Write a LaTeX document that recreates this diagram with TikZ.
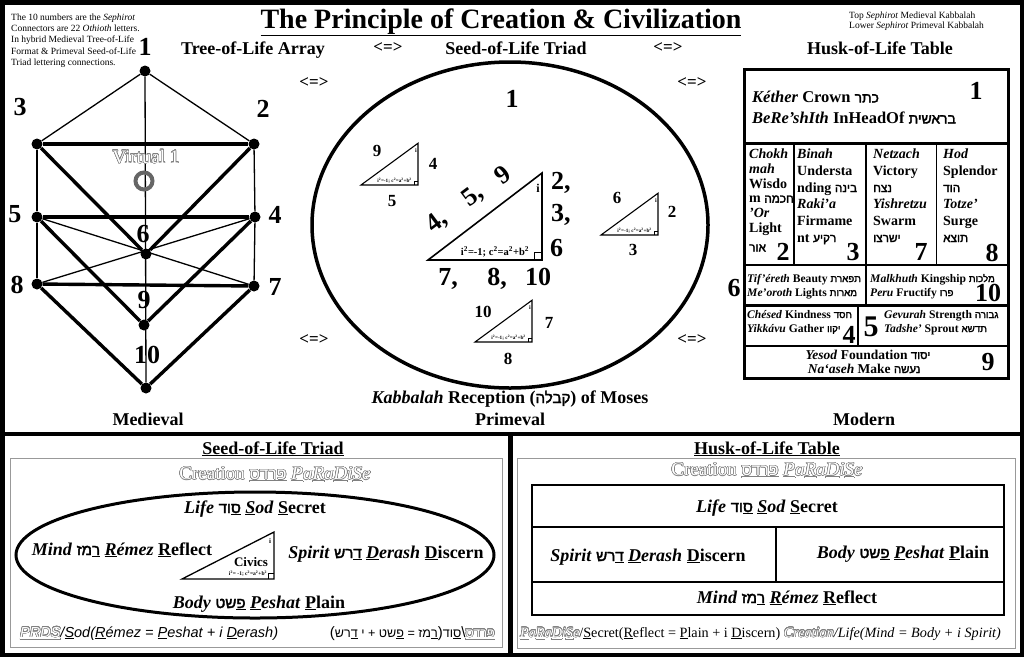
\documentclass[tikz,border=0pt]{standalone}
\usepackage{fontspec}
\setmainfont{Liberation Serif}
\newfontfamily\hebfont[Script=Hebrew, Scale=0.84, BoldFont={Liberation Sans}, BoldFeatures={FakeBold=2.5}]{Liberation Sans}
\newfontfamily\arialfont{Liberation Sans}
\usepackage[copies]{contour}
\contourlength{0.5pt}
\contournumber{20}
\TeXXeTstate=1
\usetikzlibrary{shapes.geometric}
\newcommand{\fsz}[2]{\fontsize{#1}{#2}\selectfont}
\newcommand{\heb}[1]{{\hebfont\upshape\beginR#1\endR}}
\newcommand{\outl}[1]{\contour{black!50}{\color{white}#1}}
\newcommand{\rtri}[4]{%
 \begin{scope}[shift={#1}, xscale=#2, yscale=#3]
   \draw[line width=#4] (-114,0) -- (0,-87) -- (0,0) -- cycle;
   \draw[line width=0.8pt] (-8,0) -- (-8,-8) -- (0,-8);
   \node[transform shape, inner sep=0pt, font=\bfseries\fsz{12}{12}] at (-4,-72) {i};
   \node[transform shape, inner sep=0pt, font=\bfseries\fsz{10.5}{11}] at (-47,-8) {i\textsuperscript{2}=-1; c\textsuperscript{2}=a\textsuperscript{2}+b\textsuperscript{2}};
 \end{scope}}
\tikzset{
 tn/.style={circle, fill=black, inner sep=0pt, minimum size=11pt},
 thn/.style={line width=1.3pt},
 thk/.style={line width=3.4pt},
 num/.style={font=\bfseries\fsz{26}{26}, inner sep=0pt},
 snum/.style={font=\bfseries\fsz{17}{17}, inner sep=0pt},
 hdr/.style={font=\bfseries\fsz{18}{20}, inner sep=0pt, anchor=base},
 hl/.style={anchor=base west, inner sep=0pt},
 hc/.style={anchor=base, inner sep=0pt},
 rowtwo/.style={hl, font=\bfseries\fsz{14}{14}},
 rowsm/.style={hl, font=\bfseries\fsz{11.6}{12}},
 note/.style={hl, font=\fsz{9.5}{11}},
 bline/.style={hc, font=\bfseries\fsz{18}{20}},
}
\begin{document}
\begin{tikzpicture}[x=1pt,y=-1pt]
\useasboundingbox (0,0) rectangle (1024,657);
\fill[white] (0,0) rectangle (1024,657);
% frame
\draw[line width=4.5pt] (2.25,2.25) rectangle (1021.75,654.75);
\draw[line width=4.5pt] (0,434) -- (1024,434);
\draw[line width=5pt] (510,434) -- (510,657);

% notes
\node[note] (note1) at (11,20.3) {The 10 numbers are the \textit{Sephirot}};
\node[note] (note2) at (11,31.6) {Connectors are 22 \textit{Othioth} letters.};
\node[note] (note3) at (11,42.9) {In hybrid Medieval Tree-of-Life};
\node[note] (note4) at (11,54.2) {Format \& Primeval Seed-of-Life};
\node[note] (note5) at (11,65.5) {Triad lettering connections.};
\node[note] (noteR1) at (849,18.8) {Top \textit{Sephirot} Medieval Kabbalah};
\node[note] (noteR2) at (849,28.5) {Lower \textit{Sephirot} Primeval Kabbalah};

% title
\node[hc, font=\bfseries\fsz{28}{30}] (title) at (501,28) {\underline{The Principle of Creation \& Civilization}};

% headers
\node[hdr] (h1) at (253,54) {Tree-of-Life Array};
\node[hdr] (h2) at (516,54) {Seed-of-Life Triad};
\node[hdr] (h3) at (880,54) {Husk-of-Life Table};
\node[font=\bfseries\fsz{17}{17}, inner sep=0pt] (e1) at (388,48) {<=>};
\node[font=\bfseries\fsz{17}{17}, inner sep=0pt] (e2) at (668,48) {<=>};
\node[font=\bfseries\fsz{17}{17}, inner sep=0pt] (e3) at (314,83) {<=>};
\node[font=\bfseries\fsz{17}{17}, inner sep=0pt] (e4) at (692,83) {<=>};
\node[font=\bfseries\fsz{17}{17}, inner sep=0pt] (e5) at (314,340) {<=>};
\node[font=\bfseries\fsz{17}{17}, inner sep=0pt] (e6) at (692,340) {<=>};
\node[hdr] (f1) at (148,425) {Medieval};
\node[hdr] (f2) at (510,425) {Primeval};
\node[hdr] (f3) at (864,425) {Modern};

% tree of life
\node[tn] (n1) at (145,71) {};
\node[tn] (n3) at (37,144) {};
\node[tn] (n2) at (254,144) {};
\node[tn] (n5) at (37,217) {};
\node[tn] (n4) at (255,217) {};
\node[tn] (n6) at (146,254) {};
\node[tn] (n8) at (37,284) {};
\node[tn] (n7) at (254,286) {};
\node[tn] (n9) at (144,325) {};
\node[tn] (n10) at (146,388) {};
\draw[thn] (n1) -- (n3); \draw[thn] (n1) -- (n2); \draw[thn] (n1) -- (n10);
\draw[thn] (n3) -- (n5); \draw[thn] (n5) -- (n8);
\draw[thn] (n2) -- (n4); \draw[thn] (n4) -- (n7);
\draw[thn] (n5) -- (n7); \draw[thn] (n8) -- (n4);
\draw[thk] (n3) -- (n2); \draw[thk] (n3) -- (n6); \draw[thk] (n2) -- (n6);
\draw[thk] (n5) -- (n4); \draw[thk] (n5) -- (n9); \draw[thk] (n4) -- (n9);
\draw[thk] (n8) -- (n7); \draw[thk] (n8) -- (n10); \draw[thk] (n7) -- (n10);
\node[num] (l1) at (145,47) {1};
\node[num] (l3) at (20,107) {3};
\node[num] (l2) at (263,109) {2};
\node[num] (l5) at (15,214) {5};
\node[num] (l4) at (275,215) {4};
\node[num] (l6) at (143,234) {6};
\node[num] (l8) at (17,285) {8};
\node[num] (l7) at (275,287) {7};
\node[num] (l9) at (144,300) {9};
\node[num] (l10) at (147,355) {10};
\node[font=\fsz{19}{20}, inner sep=0pt] (virt) at (146,157) {\outl{Virtual 1}};
\draw[black!60, line width=4pt] (144,181) circle (8.5);

% seed-of-life triad (top)
\draw[line width=3.5pt] (510,225) ellipse [x radius=198, y radius=163];
\node[num] (c1) at (512,99) {1};
\rtri{(542,260)}{1}{1}{1.6pt}
\rtri{(418,185)}{0.5}{0.48}{1.1pt}
\rtri{(658,235)}{0.5}{0.48}{1.1pt}
\rtri{(532,342)}{0.5}{0.48}{1.1pt}
\node[num, rotate=37] (c4) at (437,222) {4,};
\node[num, rotate=37] (c5) at (473,196) {5,};
\node[num, rotate=37] (c9) at (503,175) {9};
\node[num, anchor=west] (c2) at (551,183) {2,};
\node[num, anchor=west] (c3) at (551,215) {3,};
\node[num, anchor=west] (c6) at (550,248) {6};
\node[num] (c7) at (448,279) {7,};
\node[num] (c8) at (497,279) {8,};
\node[num] (c10) at (538,277) {10};
\node[snum] (a9) at (377,151) {9};
\node[snum] (a4) at (433,164) {4};
\node[snum] (a5) at (392,201) {5};
\node[snum] (b6) at (617,198) {6};
\node[snum] (b2) at (672,212) {2};
\node[snum] (b3) at (633,250) {3};
\node[snum] (d10) at (483,312) {10};
\node[snum] (d7) at (549,323) {7};
\node[snum] (d8) at (508,359) {8};
\node[hc, font=\bfseries\fsz{18}{20}] (kab) at (510,403) {\textit{Kabbalah} Reception (\heb{קבלה}) of Moses};

% husk table (top)
\draw[line width=3pt] (744.5,69.5) rectangle (1008.5,378.5);
\draw[line width=2.2pt] (744.5,143.5) -- (1008.5,143.5);
\draw[line width=2.2pt] (744.5,265) -- (1008.5,265);
\draw[line width=2.2pt] (744.5,305.5) -- (1008.5,305.5);
\draw[line width=2.2pt] (744.5,346) -- (1008.5,346);
\draw[line width=1.5pt] (794,143.5) -- (794,265);
\draw[line width=2.6pt] (866,143.5) -- (866,305.5);
\draw[line width=1.5pt] (936.5,143.5) -- (936.5,265);
\draw[line width=2pt] (857.5,305.5) -- (857.5,346);
\node[hl, font=\bfseries\fsz{16.5}{17}] (k1) at (752,102.5) {\textit{Kéther} Crown \heb{כתר}};
\node[hl, font=\bfseries\fsz{16.5}{17}] (k2) at (752,123.5) {\textit{BeRe’shIth} InHeadOf \heb{בראשית}};
\node[num] (t1) at (976,91) {1};
% col 1
\node[rowtwo] at (749,158.6) {\textit{Chokh}};
\node[rowtwo] at (749,173.3) {\textit{mah}};
\node[rowtwo] at (749,188) {Wisdo};
\node[rowtwo] at (749,202.6) {m \heb{חכמה}};
\node[rowtwo] at (749,217.3) {\textit{’Or}};
\node[rowtwo] at (749,232) {Light};
\node[rowtwo] at (749,251.5) {\heb{אור}};
\node[num] (t2) at (783,252) {2};
% col 2
\node[rowtwo] at (797,158.6) {\textit{Binah}};
\node[rowtwo] at (797,175.3) {Understa};
\node[rowtwo] at (797,192) {nding \heb{בינה}};
\node[rowtwo] at (797,208.6) {\textit{Raki’a}};
\node[rowtwo] at (797,225.3) {Firmame};
\node[rowtwo] at (797,242) {nt \heb{רקיע}};
\node[num] (t3) at (853,252) {3};
% col 3
\node[rowtwo] at (873,158.6) {\textit{Netzach}};
\node[rowtwo] at (873,175.3) {Victory};
\node[rowtwo] at (873,192) {\heb{נצח}};
\node[rowtwo] at (873,208.6) {\textit{Yishretzu}};
\node[rowtwo] at (873,225.3) {Swarm};
\node[rowtwo] at (873,242) {\heb{ישרצו}};
\node[num] (t7) at (921,252) {7};
% col 4
\node[rowtwo] at (943,158.6) {\textit{Hod}};
\node[rowtwo] at (943,175.3) {Splendor};
\node[rowtwo] at (943,192) {\heb{הוד}};
\node[rowtwo] at (943,208.6) {\textit{Totze’}};
\node[rowtwo] at (943,225.3) {Surge};
\node[rowtwo] at (943,242) {\heb{תוצא}};
\node[num] (t8) at (992,253) {8};
% row 3
\node[rowsm] at (747,282) {\textit{Tif’éreth} Beauty \heb{תפארת}};
\node[rowsm] at (747,296) {\textit{Me’oroth} Lights \heb{מארות}};
\node[rowsm] at (870,282) {\textit{Malkhuth} Kingship \heb{מלכות}};
\node[rowsm] at (870,296) {\textit{Peru} Fructify \heb{פרו}};
\node[num] (t10) at (988,293) {10};
\node[num] (t6) at (734,288) {6};
% row 4
\node[rowsm] at (747,318) {\textit{Chésed} Kindness \heb{חסד}};
\node[rowsm] at (747,332) {\textit{Yikkávu} Gather \heb{יקוו}};
\node[num] (t4) at (849,335) {4};
\node[font=\bfseries\fsz{30}{30}, inner sep=0pt] (t5) at (871,327) {5};
\node[rowsm] at (884,318) {\textit{Gevurah} Strength \heb{גבורה}};
\node[rowsm] at (884,332) {\textit{Tadshe’} Sprout \heb{תדשא}};
% row 5
\node[hc, font=\bfseries\fsz{13.5}{14}] at (868,359) {\textit{Yesod} Foundation \heb{יסוד}};
\node[hc, font=\bfseries\fsz{13.5}{14}] at (864,373) {\textit{Na‘aseh} Make \heb{נעשה}};
\node[num] (t9) at (988,362) {9};

% bottom left panel
\node[bline] (blh) at (273,454) {\underline{Seed-of-Life Triad}};
\draw[black!40, line width=0.8pt] (10,458) rectangle (502,647);
\node[hc, font=\fsz{19}{20}] (blcr) at (275,479.5) {\outl{Creation \heb{\underline{פרדס}} \textit{\underline{P}a\underline{R}a\underline{D}i\underline{S}e}}};
\draw[line width=3pt] (255,555) ellipse [x radius=239, y radius=63];
\node[bline] (bll) at (255,513) {\textit{Life} \heb{\underline{ס}וד} \textit{\underline{S}od} \underline{S}ecret};
\node[bline] (blm) at (122,555) {\textit{Mind} \heb{\underline{ר}מז} \textit{\underline{R}émez} \underline{R}eflect};
\node[bline] (bls) at (386,558) {\textit{Spirit} \heb{\underline{ד}רש} \textit{\underline{D}erash} \underline{D}iscern};
\node[bline] (blb) at (259,608) {\textit{Body} \heb{\underline{פ}שט} \textit{\underline{P}eshat} \underline{P}lain};
\draw[line width=1.3pt] (182,579) -- (274,532) -- (274,579) -- cycle;
\draw[line width=0.7pt] (268,579) -- (268,573) -- (274,573);
\node[inner sep=0pt, font=\bfseries\fsz{7}{7}] at (270,541) {i};
\node[inner sep=0pt, font=\bfseries\fsz{13}{13}] (civ) at (251,562) {Civics};
\node[inner sep=0pt, font=\bfseries\fsz{5.5}{6}] at (248,574) {i\textsuperscript{2}= -1; c\textsuperscript{2}=a\textsuperscript{2}+b\textsuperscript{2}};
\node[hl, font=\arialfont\itshape\fsz{14.5}{15}] (blf1) at (20,637) {\outl{\underline{PRDS}}/\underline{S}od(\underline{R}émez = \underline{P}eshat + i \underline{D}erash)};
\node[anchor=base east, inner sep=0pt, font=\arialfont\fsz{15}{15}] (blf2) at (495,637) {(\heb{\underline{ר}מז = \underline{פ}שט + י \underline{ד}רש})\heb{\underline{ס}וד}\textbackslash\outl{\heb{\underline{פרדס}}}};

% bottom right panel
\node[bline] (brh) at (767,454) {\underline{Husk-of-Life Table}};
\draw[black!40, line width=0.8pt] (517,458) rectangle (1015,648);
\node[hc, font=\fsz{19}{20}] (brcr) at (767,475.5) {\outl{Creation \heb{\underline{פרדס}} \textit{\underline{P}a\underline{R}a\underline{D}i\underline{S}e}}};
\draw[line width=2.5pt] (532,485) rectangle (1004,615);
\draw[line width=2.5pt] (532,527) -- (1004,527);
\draw[line width=2.5pt] (532,582) -- (1004,582);
\draw[line width=2.5pt] (776,527) -- (776,582);
\node[bline] (brl) at (767,512) {\textit{Life} \heb{\underline{ס}וד} \textit{\underline{S}od} \underline{S}ecret};
\node[bline] (brs) at (648,561) {\textit{Spirit} \heb{\underline{ד}רש} \textit{\underline{D}erash} \underline{D}iscern};
\node[bline] (brb) at (903,558) {\textit{Body} \heb{\underline{פ}שט} \textit{\underline{P}eshat} \underline{P}lain};
\node[bline] (brm) at (787,603) {\textit{Mind} \heb{\underline{ר}מז} \textit{\underline{R}émez} \underline{R}eflect};
\node[hl, font=\fsz{14.2}{15}] (brf) at (520,637) {\outl{\textit{\underline{P}a\underline{R}a\underline{D}i\underline{S}e}}/\underline{S}ecret(\underline{R}eflect = \underline{P}lain + i \underline{D}iscern) \outl{\textit{Creation}}\textit{/Life(Mind = Body + i Spirit)}};
\end{tikzpicture}
\end{document}
